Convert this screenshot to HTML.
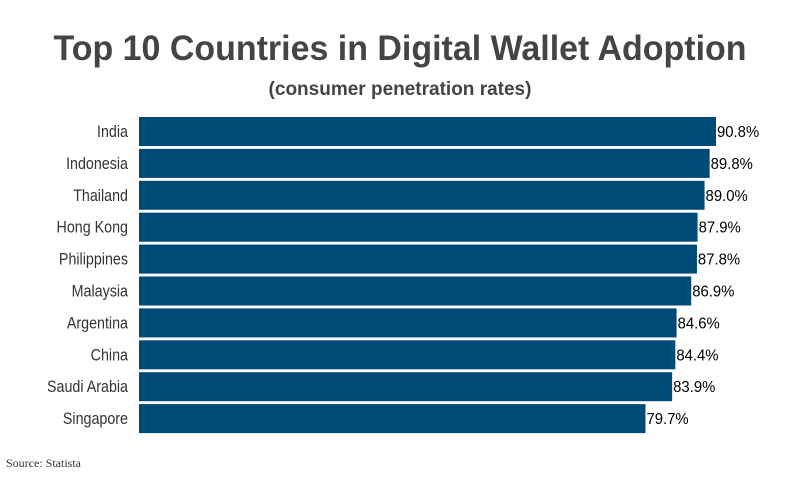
<!DOCTYPE html>
<html><head><meta charset="utf-8"><style>
body{margin:0;background:#fff;width:800px;height:475px;overflow:hidden;font-family:"Liberation Sans",sans-serif}
</style></head><body>
<svg id="chart" width="800" height="475" xmlns="http://www.w3.org/2000/svg">
<text x="400" y="60" text-anchor="middle" font-family="Liberation Sans, sans-serif" font-weight="bold" font-size="35" fill="#444" textLength="693" lengthAdjust="spacingAndGlyphs">Top 10 Countries in Digital Wallet Adoption</text>
<text x="400" y="95" text-anchor="middle" font-family="Liberation Sans, sans-serif" font-weight="bold" font-size="19" fill="#444">(consumer penetration rates)</text>
<text x="6" y="467" font-family="Liberation Serif, serif" font-size="12" fill="#333">Source: Statista</text>
<g id="bars"></g>
</svg>
<script>
const categories=["India","Indonesia","Thailand","Hong Kong","Philippines","Malaysia","Argentina","China","Saudi Arabia","Singapore"];
const values=[90.8,89.8,89.0,87.9,87.8,86.9,84.6,84.4,83.9,79.7];
const valueLabels=["90.8%","89.8%","89.0%","87.9%","87.8%","86.9%","84.6%","84.4%","83.9%","79.7%"];
const x0=139,scale=(716-139)/90.8;
function xs(v){return x0+v*scale;}
function ys(i){return 117+i*31.9;}
const g=document.getElementById('bars');const ns="http://www.w3.org/2000/svg";
categories.forEach((c,i)=>{
 const r=document.createElementNS(ns,'rect');
 r.setAttribute('x',x0);r.setAttribute('y',ys(i));r.setAttribute('width',xs(values[i])-x0);r.setAttribute('height',29);r.setAttribute('fill','#004a77');
 
 
 g.appendChild(r);
 const t=document.createElementNS(ns,'text');
 t.setAttribute('x',128);t.setAttribute('y',ys(i)+20);t.setAttribute('text-anchor','end');t.setAttribute('font-size','17');t.setAttribute('fill','#333');t.textContent=c;
 
 
 g.appendChild(t);
 t.setAttribute('textLength',t.getComputedTextLength()*0.84);
 t.setAttribute('lengthAdjust','spacingAndGlyphs');
 const v=document.createElementNS(ns,'text');
 v.setAttribute('x',xs(values[i])+1);v.setAttribute('y',ys(i)+20);v.setAttribute('font-size','16');v.setAttribute('fill','#000');v.textContent=valueLabels[i];
 
 
 g.appendChild(v);
 v.setAttribute('textLength',v.getComputedTextLength()*0.93);
 v.setAttribute('lengthAdjust','spacingAndGlyphs');
});
</script>
</body></html>
